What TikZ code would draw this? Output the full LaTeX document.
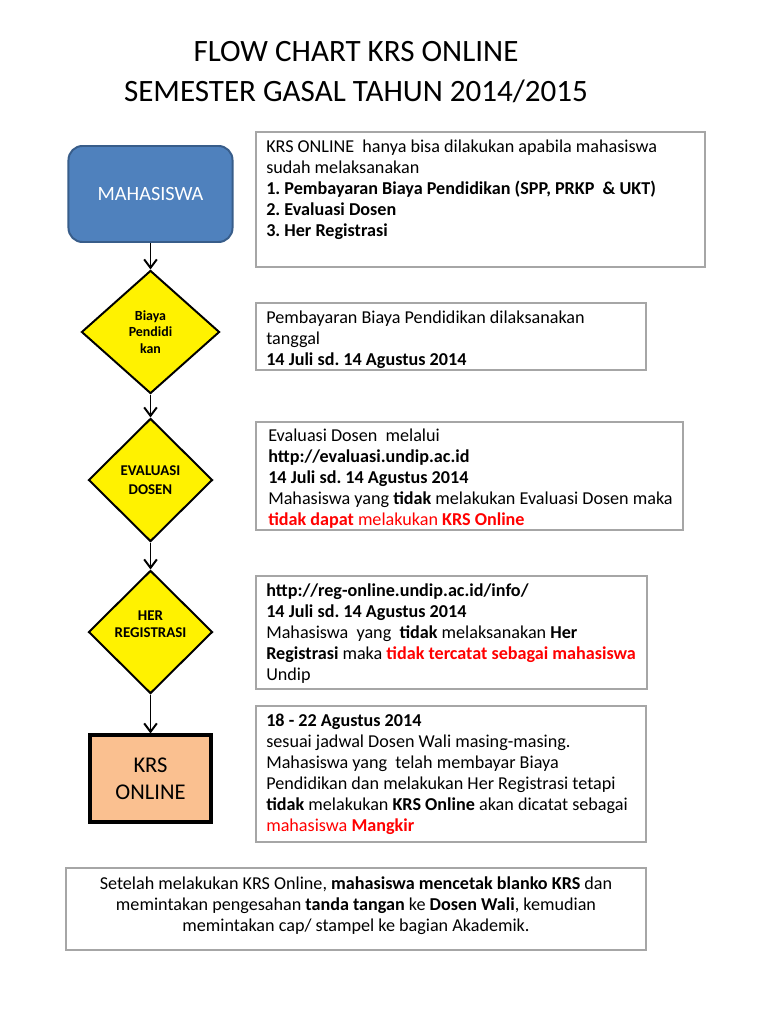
\documentclass[tikz,border=0pt]{standalone}
\usepackage{fontspec}
\setmainfont{Carlito}
\usetikzlibrary{shapes.geometric,arrows.meta}
\frenchspacing

\definecolor{mhsblue}{HTML}{4F81BD}
\definecolor{mhsedge}{HTML}{385D8A}
\definecolor{krsfill}{HTML}{FAC090}
\definecolor{boxgray}{HTML}{A6A6A6}
\definecolor{warnred}{HTML}{FF0000}

\tikzset{
    flowarrow/.style={-{Straight Barb[length=6pt,width=9pt]}, line width=1.4pt},
    decision/.style={diamond, draw, fill=yellow, line width=1.4pt, inner sep=0pt, font=\bfseries},
    infobox/.style={draw=boxgray, line width=0.9pt},
    infotext/.style={anchor=north west, inner sep=0pt, align=left, font=\fontsize{12.9}{14.9}\selectfont}
}

\begin{document}
\begin{tikzpicture}[x=0.025cm, y=-0.025cm]
    \useasboundingbox (0,0) rectangle (768,1024);

    \node[align=center, font=\fontsize{22.1}{28.4}\selectfont] (title) at (356,72)
        {FLOW CHART KRS ONLINE\\SEMESTER GASAL TAHUN 2014/2015};

    % left column
    \node[draw=mhsedge, fill=mhsblue, line width=1.4pt, rounded corners=0.35cm,
          minimum width=4.1cm, minimum height=2.4cm, text=white,
          font=\fontsize{14.4}{17}\selectfont] (mhs) at (150.5,194) {MAHASISWA};
    \node[decision, minimum width=3.45cm, minimum height=3.075cm, align=center,
          font=\fontsize{9.9}{11.6}\selectfont\bfseries] (biaya) at (150.5,332) {Biaya\\Pendidi\\kan};
    \node[decision, minimum width=3.1cm, minimum height=3.075cm, align=center,
          font=\fontsize{10.6}{13.5}\selectfont\bfseries] (evaluasi) at (150.5,480) {EVALUASI\\DOSEN};
    \node[decision, minimum width=3.1cm, minimum height=3.075cm, align=center,
          font=\fontsize{10.6}{12.1}\selectfont\bfseries] (her) at (150.5,632) {HER\\REGISTRASI\\[-1.5pt]};
    \node[draw, fill=krsfill, line width=2.2pt, minimum width=3.025cm, minimum height=2.175cm,
          align=center, font=\fontsize{16}{19.2}\selectfont] (krs) at (150.5,778.5) {KRS\\ONLINE};

    \draw[flowarrow] (mhs) -- (biaya);
    \draw[flowarrow] (biaya) -- (evaluasi);
    \draw[flowarrow] (evaluasi) -- (her);
    \draw[flowarrow] (her) -- (krs);

    % right column
    \draw[infobox] (256,132) rectangle (705,267);
    \node[infotext] (syarat) at (266,138) {\strut KRS ONLINE\ \ hanya bisa dilakukan apabila mahasiswa\\
        sudah melaksanakan\\
        \textbf{1. Pembayaran Biaya Pendidikan (SPP, PRKP\ \ \& UKT)}\\
        \textbf{2. Evaluasi Dosen}\\
        \textbf{3. Her Registrasi}};

    \draw[infobox] (256,303) rectangle (646,370);
    \node[infotext] (bayar) at (266,309) {\strut Pembayaran Biaya Pendidikan dilaksanakan\\
        tanggal\\
        \textbf{14 Juli sd. 14 Agustus 2014}};

    \draw[infobox] (256,422) rectangle (683,530);
    \node[infotext] (evtext) at (268,427) {\strut Evaluasi Dosen\ \ melalui\\
        \textbf{http://evaluasi.undip.ac.id}\\
        \textbf{14 Juli sd. 14 Agustus 2014}\\
        Mahasiswa yang \textbf{tidak} melakukan Evaluasi Dosen maka\\
        \textcolor{warnred}{\textbf{tidak dapat} melakukan \textbf{KRS Online}}};

    \draw[infobox] (256,576) rectangle (647,689);
    \node[infotext] (hertext) at (266,582) {\strut\textbf{http://reg-online.undip.ac.id/info/}\\
        \textbf{14 Juli sd. 14 Agustus 2014}\\
        Mahasiswa\ \ yang\ \ \textbf{tidak} melaksanakan \textbf{Her}\\
        \textbf{Registrasi} maka \textcolor{warnred}{\textbf{tidak tercatat sebagai mahasiswa}}\\
        Undip};

    \draw[infobox] (256,706) rectangle (646,842);
    \node[infotext] (jadwal) at (266,712) {\strut\textbf{18 - 22 Agustus 2014}\\
        sesuai jadwal Dosen Wali masing-masing.\\
        Mahasiswa yang\ \ telah membayar Biaya\\
        Pendidikan dan melakukan Her Registrasi tetapi\\
        \textbf{tidak} melakukan \textbf{KRS Online} akan dicatat sebagai\\
        \textcolor{warnred}{mahasiswa \textbf{Mangkir}}};

    % bottom note
    \draw[infobox] (66,868) rectangle (646,950);
    \node[infotext, anchor=north, align=center] (cetak) at (356,875) {\strut Setelah melakukan KRS Online, \textbf{mahasiswa mencetak blanko KRS} dan\\
        memintakan pengesahan \textbf{tanda tangan} ke \textbf{Dosen Wali}, kemudian\\
        memintakan cap/ stampel ke bagian Akademik.};
\end{tikzpicture}
\end{document}
